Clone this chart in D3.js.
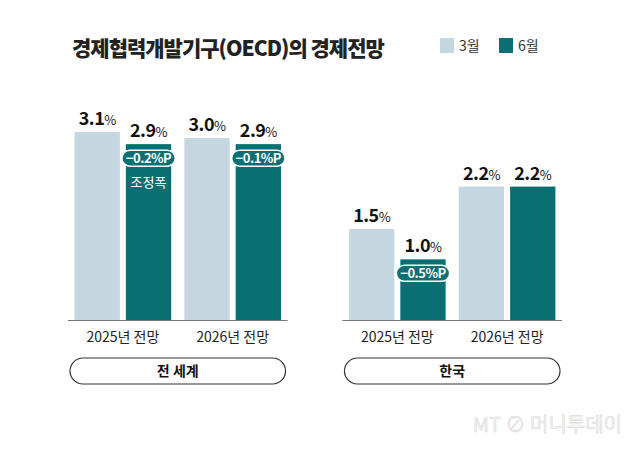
<!DOCTYPE html>
<html><head><meta charset="UTF-8">
<script src="https://d3js.org/d3.v7.min.js"></script>
<style>body{margin:0;background:#fff}text{font-family:"Noto Sans CJK KR",sans-serif}</style>
</head><body><svg id="c" width="640" height="451"></svg>
<script>
const regions = ['전 세계', '한국'];
const years = ['2025년 전망', '2026년 전망'];
const march = [[3.1, 3.0], [1.5, 2.2]];
const june = [[2.9, 2.9], [1.0, 2.2]];
const changes = [['−0.2%P', '−0.1%P'], ['−0.5%P', null]];
const light = '#c4d7e0', dark = '#0a6f72';

const svg = d3.select('#c');
const y = d3.scaleLinear().domain([0, 3.1]).range([320, 132]);
const groupX = d3.scaleBand().domain(regions).range([68, 562]).paddingInner(0.2);
const yearX = d3.scaleBand().domain(years).range([0, groupX.bandwidth()]).paddingInner(0.12).paddingOuter(0.06);

svg.append('text').attr('x', 72).attr('y', 56).attr('font-size', 21).attr('font-weight', 900)
  .attr('fill', '#222').attr('letter-spacing', -1).text('경제협력개발기구(OECD)의 경제전망');
[['3월', light, 440], ['6월', dark, 499]].forEach(([t, c, x]) => {
  svg.append('rect').attr('x', x).attr('y', 38).attr('width', 14).attr('height', 15).attr('fill', c);
  svg.append('text').attr('x', x + 19).attr('y', 51).attr('font-size', 14).attr('fill', '#333').text(t);
});

regions.forEach((r, ri) => {
  const g = svg.append('g').attr('transform', `translate(${groupX(r)},0)`);
  const w = groupX.bandwidth();
  years.forEach((yr, yi) => {
    const x0 = yearX(yr), bw = yearX.bandwidth() / 2 - 3;
    const vals = [[march[ri][yi], light, x0], [june[ri][yi], dark, x0 + bw + 6]];
    vals.forEach(([v, c, x]) => {
      g.append('rect').attr('x', x).attr('y', y(v)).attr('width', bw).attr('height', 320 - y(v)).attr('fill', c);
      const t = g.append('text').attr('x', x + bw / 2).attr('y', y(v) - 7).attr('text-anchor', 'middle')
        .attr('font-size', 18).attr('font-weight', 700).attr('fill', '#111').attr('letter-spacing', -0.5);
      t.append('tspan').text(v.toFixed(1));
      t.append('tspan').attr('font-size', 13).attr('font-weight', 400).text('%');
    });
    const ch = changes[ri][yi];
    if (ch) {
      const bx = x0 + bw + 6, cy = y(june[ri][yi]) + 14;
      g.append('rect').attr('x', bx - 4).attr('y', cy - 8).attr('width', bw + 8).attr('height', 16).attr('rx', 8)
        .attr('fill', dark).attr('stroke', '#fff').attr('stroke-width', 1.5);
      g.append('text').attr('x', bx + bw / 2).attr('y', cy + 5).attr('text-anchor', 'middle')
        .attr('font-size', 13).attr('font-weight', 700).attr('fill', '#fff').attr('letter-spacing', -0.5).text(ch);
      if (ri === 0 && yi === 0) {
        g.append('text').attr('x', bx + bw / 2).attr('y', cy + 29).attr('text-anchor', 'middle')
          .attr('font-size', 13).attr('fill', '#fff').text('조정폭');
      }
    }
    g.append('text').attr('x', x0 + yearX.bandwidth() / 2).attr('y', 342).attr('text-anchor', 'middle')
      .attr('font-size', 14).attr('fill', '#222').text(yr);
  });
  g.append('line').attr('x1', 0).attr('x2', w).attr('y1', 320.5).attr('y2', 320.5).attr('stroke', '#777');
  g.append('rect').attr('x', 2).attr('y', 358).attr('width', w - 4).attr('height', 26).attr('rx', 13)
    .attr('fill', '#fff').attr('stroke', '#333').attr('stroke-width', 1.2);
  g.append('text').attr('x', w / 2).attr('y', 376).attr('text-anchor', 'middle').attr('font-size', 14)
    .attr('font-weight', 700).attr('fill', '#111').text(r);
});
svg.append('text').attr('x', 622).attr('y', 432).attr('text-anchor', 'end').attr('font-size', 20)
  .attr('fill', '#f2f2f2').attr('stroke', '#ddd').attr('stroke-width', 0.6).text('MT ⊘ 머니투데이');
</script></body></html>
